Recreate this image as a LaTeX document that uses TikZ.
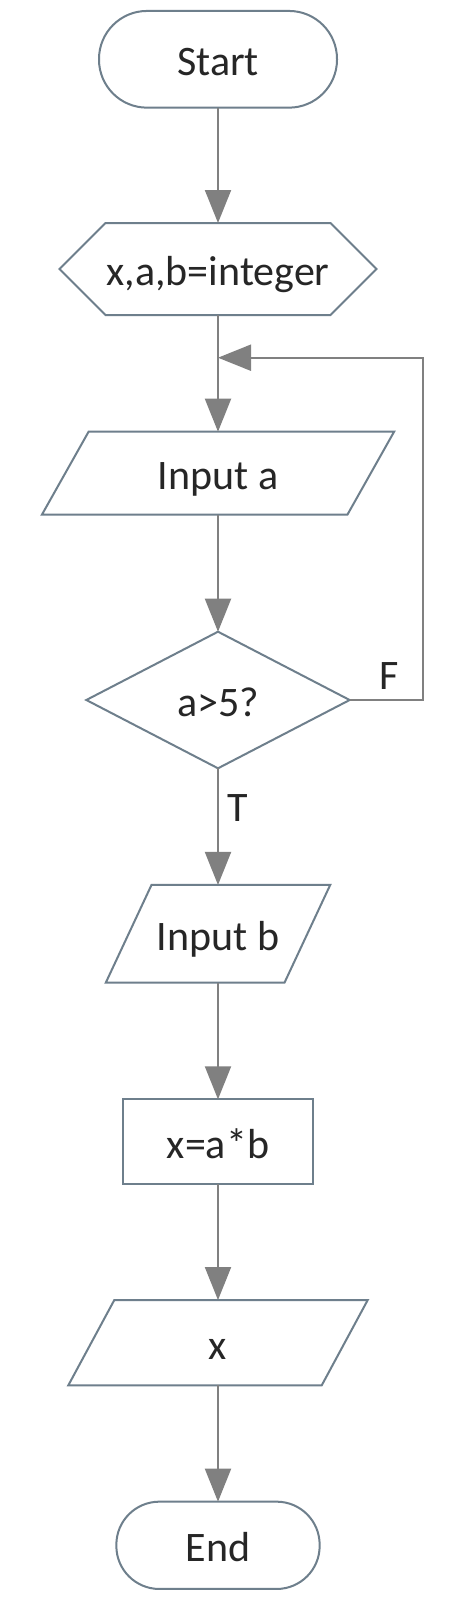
\documentclass[tikz,border=0pt]{standalone}
\usepackage{fontspec}
\setmainfont{Carlito}
\usetikzlibrary{arrows.meta,shapes.geometric,calc}
\definecolor{outl}{RGB}{110,127,140}
\definecolor{conng}{RGB}{128,128,128}
\definecolor{txtc}{RGB}{38,38,38}
\tikzset{
  x=1pt,y=-1pt,
  lbl/.style={font=\fontsize{42}{48}\selectfont, text=txtc},
  txt/.style={lbl, draw=none, inner sep=0pt, outer sep=0pt, text height=33pt, text depth=0pt},
  outline/.style={draw=outl, line width=2pt, line join=miter},
  term/.style={txt, outline, fill=white},
  conn/.style={draw=conng, line width=2pt, -{Triangle[length=33pt,width=26pt]}}
}
\begin{document}
\begin{tikzpicture}
\useasboundingbox[fill=white] (0,0) rectangle (455,1600);
% nodes
\node[term, rounded corners=48pt, minimum width=238pt, minimum height=96.7pt] (start) at (218,59.3) {Start};
\node[txt, minimum width=317pt, minimum height=92pt] (hex) at (218,269) {x,a,b=integer};
\node[txt, minimum width=305.5pt, minimum height=83pt] (ina) at (218,473.2) {Input a};
\node[txt, outline, shape=diamond, minimum width=263.3pt, minimum height=136.6pt] (dec) at (218,700) {a>5?};
\node[txt, minimum width=178.7pt, minimum height=97.7pt] (inb) at (218,933.8) {Input b};
\node[txt, outline, minimum width=190.6pt, minimum height=85pt] (calc) at (218,1141.8) {x=a*b};
\node[txt, minimum width=253.4pt, minimum height=85.3pt] (outx) at (218,1342.7) {x};
\node[term, rounded corners=43pt, minimum width=203.3pt, minimum height=87.3pt] (end) at (218,1545.3) {End};
% outlines of hexagon and parallelograms
\draw[outline] (hex.west) -- ([xshift=46pt]hex.north west) -- ([xshift=-46pt]hex.north east) -- (hex.east) -- ([xshift=-46pt]hex.south east) -- ([xshift=46pt]hex.south west) -- cycle;
\draw[outline] ([xshift=23.35pt]ina.north west) -- ([xshift=23.35pt]ina.north east) -- ([xshift=-23.35pt]ina.south east) -- ([xshift=-23.35pt]ina.south west) -- cycle;
\draw[outline] ([xshift=22.85pt]inb.north west) -- ([xshift=22.85pt]inb.north east) -- ([xshift=-22.85pt]inb.south east) -- ([xshift=-22.85pt]inb.south west) -- cycle;
\draw[outline] ([xshift=23pt]outx.north west) -- ([xshift=23pt]outx.north east) -- ([xshift=-23pt]outx.south east) -- ([xshift=-23pt]outx.south west) -- cycle;
% connectors
\coordinate (loopin) at (218,357.7);
\coordinate (loopr) at (423.3,357.7);
\draw[conn] (start) -- (hex);
\draw[conn] (hex) -- (ina);
\draw[conn] (ina) -- (dec);
\draw[conn] (dec.east) -| (loopr) -- (loopin);
\draw[conn] (dec) -- (inb);
\draw[conn] (inb) -- (calc);
\draw[conn] (calc) -- (outx);
\draw[conn] (outx) -- (end);
% labels
\node[lbl, inner sep=0pt] (flab) at (389,676) {F};
\node[lbl, inner sep=0pt] (tlab) at (238,808) {T};
\end{tikzpicture}
\end{document}
